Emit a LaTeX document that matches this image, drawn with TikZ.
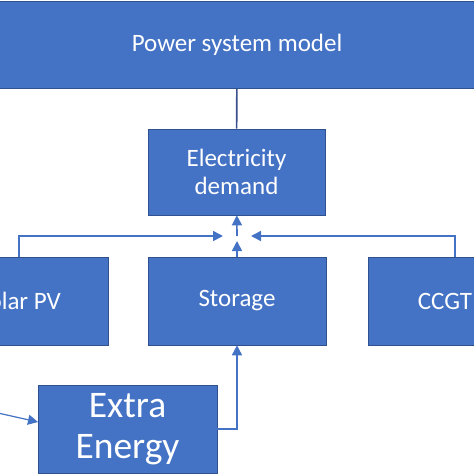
\documentclass[tikz,border=0pt]{standalone}
\usepackage{fontspec}
\setmainfont{Carlito}
\usetikzlibrary{arrows.meta}
\definecolor{boxblue}{HTML}{4472C4}
\definecolor{edgeblue}{HTML}{2F528F}
\definecolor{lineblue}{HTML}{4472C4}
\definecolor{darkline}{HTML}{3B4F8E}
\tikzset{
  box/.style={fill=boxblue, draw=edgeblue, line width=0.6pt, text=white, inner sep=0pt, align=center, font=\fontsize{25}{28}\selectfont},
  bigtext/.style={font=\fontsize{37.5}{41.5}\selectfont},
  conn/.style={draw=lineblue, line width=1.6pt},
  arr/.style={conn, -{Triangle[length=10pt,width=10pt]}},
}
\begin{document}
\begin{tikzpicture}[x=1pt,y=-1pt]
\useasboundingbox (0,0) rectangle (474,474);
\clip (0,0) rectangle (474,474);
\node[box, minimum width=490pt, minimum height=87pt] (top) at (237,45) {Power system model};
\node[box, minimum width=177pt, minimum height=86pt] (elec) at (236.5,172) {Electricity\\demand};
\node[box, minimum width=178pt, minimum height=88pt] (solar) at (19,301) {Solar PV};
\node[box, minimum width=178pt, minimum height=88pt] (stor) at (237,301) {Storage};
\node[box, minimum width=154pt, minimum height=88pt] (ccgt) at (445,301) {CCGT};
\node[box, bigtext, minimum width=179pt, minimum height=88pt] (extra) at (127.5,429) {Extra\\Energy};
\coordinate (J) at (237,236);
\coordinate (Jb) at (237,241);
\coordinate (Jl) at (223,236);
\coordinate (Jr) at (251,236);
\coordinate (src) at (-2,413);
\coordinate (ein) at (38,422);
\draw[draw=darkline, line width=1.6pt] (top) -- (elec);
\draw[arr] (stor) -- (Jb);
\draw[arr] (J) -- (elec);
\draw[arr] (solar.north) |- (Jl);
\draw[arr] ([xshift=10pt]ccgt.north) |- (Jr);
\draw[arr] (extra.east) -| (stor.south);
\draw[arr, line width=1.2pt] (src) -- (ein);
\end{tikzpicture}
\end{document}
